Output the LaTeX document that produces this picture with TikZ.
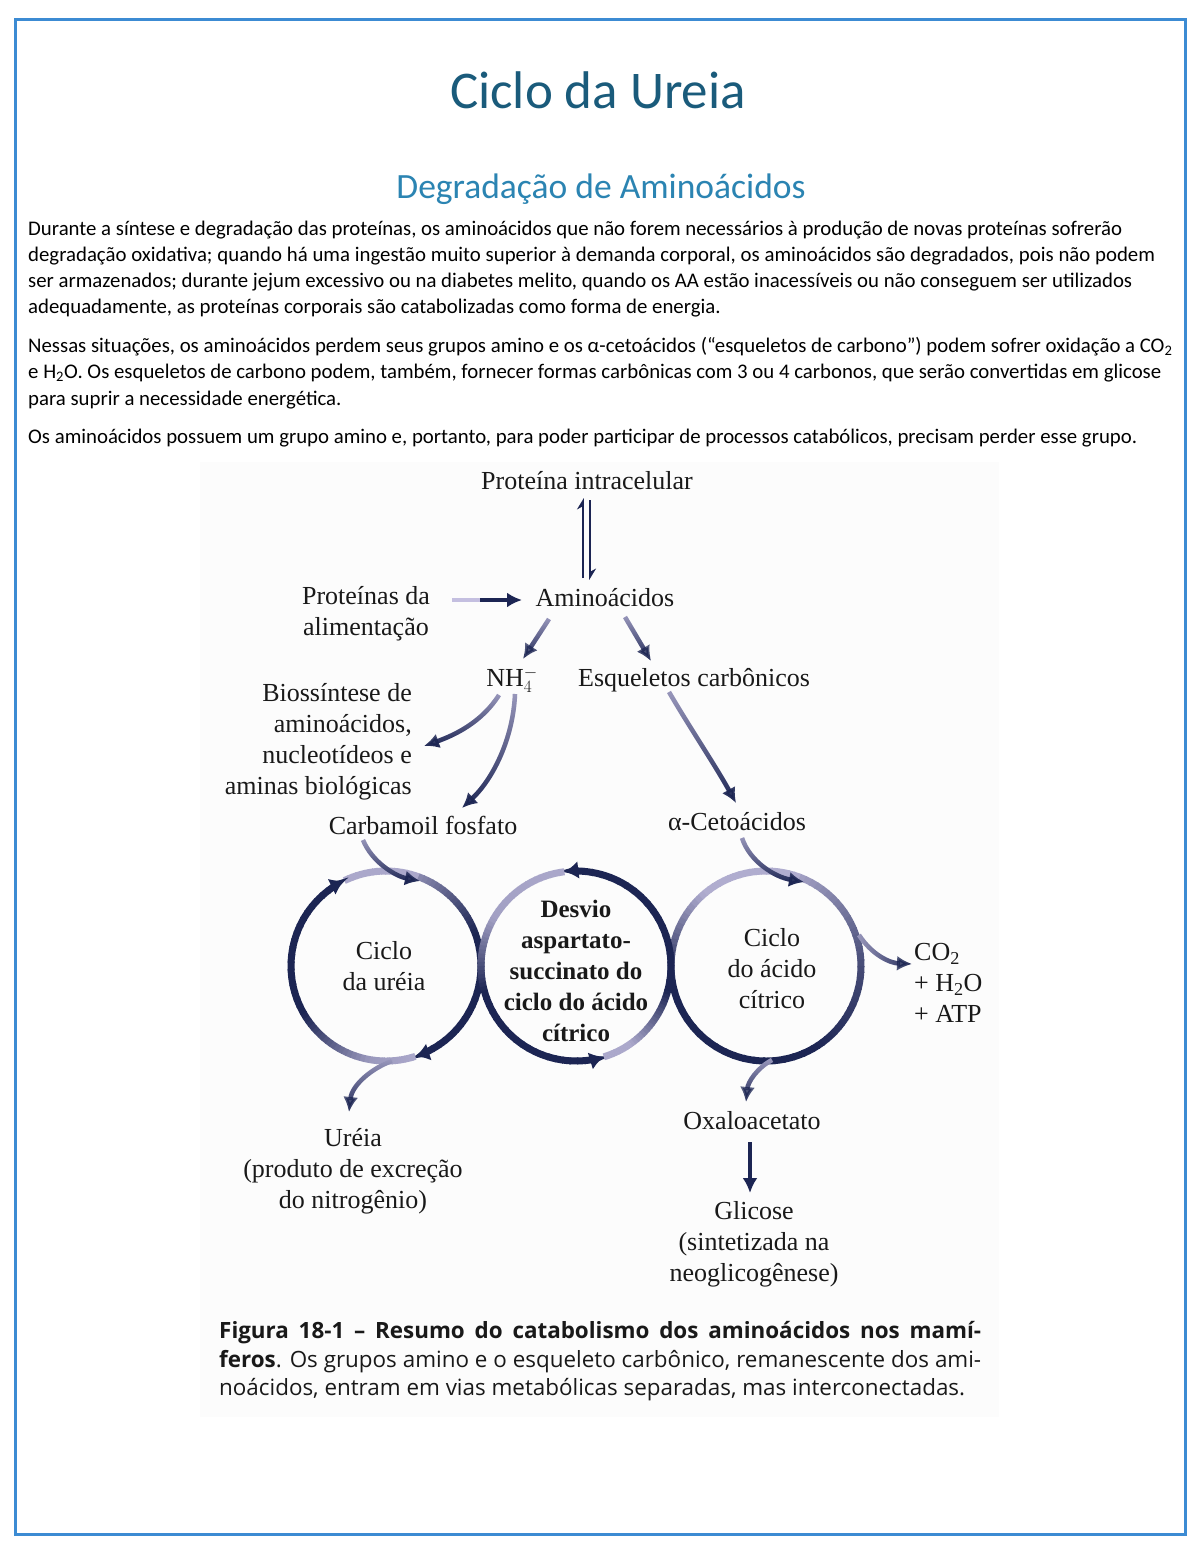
\documentclass[tikz,border=0pt]{standalone}
\usepackage{fontspec}
\setmainfont{Liberation Serif}
\newfontfamily\bodyfont{Carlito}
\newfontfamily\capfont{Open Sans}
\usetikzlibrary{arrows.meta,calc,fadings}
\definecolor{navy}{HTML}{1C2553}
\definecolor{lav}{HTML}{C4BFE0}
\definecolor{framec}{HTML}{3C8BD3}
\definecolor{titlec}{HTML}{1A5B7B}
\definecolor{subc}{HTML}{2B84B2}
\tikzfading[name=fdown, top color=transparent!75, bottom color=transparent!0]
\tikzfading[name=fright, left color=transparent!75, right color=transparent!0]
\newcommand{\garc}[5]{%
  \foreach \k in {1,...,18}{%
    \pgfmathsetmacro\sa{-(#2+(#3-#2)*(\k-1)/18)}%
    \pgfmathsetmacro\ea{-(#2+(#3-#2)*(\k+0.2)/18)}%
    \pgfmathsetmacro\pp{#4+(#5-#4)*(\k-0.5)/18}%
    \draw[cyc, navy!\pp!lav] (#1) ++(\sa:95) arc[start angle=\sa, end angle=\ea, radius=95];
  }}
\newcommand{\cyctip}[3]{%
  \pgfmathsetmacro\tsa{-(#2)}\pgfmathsetmacro\tea{-(#3)}%
  \draw[cyc, navy, -{Latex[length=14pt,width=18pt]}] (#1) ++(\tsa:95) arc[start angle=\tsa, end angle=\tea, radius=95];}
\newcommand{\fconn}[2]{%
  \draw[lav, line width=4.5pt, shorten >=14pt] #2;
  \draw[conn, path fading=#1] #2;}
\begin{document}
\begin{tikzpicture}[x=1pt,y=-1pt,
  cyc/.style={line width=7pt, line cap=butt},
  conn/.style={navy, line width=4.5pt, -{Latex[length=15pt,width=15pt]}},
  thinarr/.style={navy, line width=2pt},
  lab/.style={font=\fontsize{26}{31}\selectfont, inner sep=2pt, text=black!90},
  body/.style={anchor=base west, inner sep=0pt, font=\bodyfont\fontsize{20.8}{25}\selectfont},
  capn/.style={anchor=base west, inner sep=0pt, font=\capfont\fontsize{22.4}{26}\selectfont, text=black!90}]
\useasboundingbox (0,0) rectangle (1200,1553);
\fill[white] (0,0) rectangle (1200,1553);
\fill[black!1] (200,462) rectangle (999,1417);
\draw[framec, line width=3pt] (15,19) rectangle (1185,1534);

% titles
\node[anchor=base, inner sep=0pt, text=titlec, font=\bodyfont\fontsize{53}{60}\selectfont] (title) at (598,108) {Ciclo da Ureia};
\node[anchor=base, inner sep=0pt, text=subc, font=\bodyfont\fontsize{35.5}{40}\selectfont] (sub) at (601,198) {Degradação de Aminoácidos};

% body text
\node[body] (b1) at (28,235) {Durante a síntese e degradação das proteínas, os aminoácidos que não forem necessários à produção de novas proteínas sofrerão};
\node[body] (b2) at (28,261) {\makebox[1127pt][s]{degradação oxidativa; quando há uma ingestão muito superior à demanda corporal, os aminoácidos são degradados, pois não podem}};
\node[body] (b3) at (28,287) {ser armazenados; durante jejum excessivo ou na diabetes melito, quando os AA estão inacessíveis ou não conseguem ser utilizados};
\node[body] (b4) at (28,313) {adequadamente, as proteínas corporais são catabolizadas como forma de energia.};
\node[body] (b5) at (28,352) {Nessas situações, os aminoácidos perdem seus grupos amino e os α-cetoácidos (“esqueletos de carbono”) podem sofrer oxidação a CO\textsubscript{2}};
\node[body] (b6) at (28,378) {e H\textsubscript{2}O. Os esqueletos de carbono podem, também, fornecer formas carbônicas com 3 ou 4 carbonos, que serão convertidas em glicose};
\node[body] (b7) at (28,405) {para suprir a necessidade energética.};
\node[body] (b8) at (28,443) {Os aminoácidos possuem um grupo amino e, portanto, para poder participar de processos catabólicos, precisam perder esse grupo.};

% cycles
\coordinate (cu) at (386,966);
\coordinate (cm) at (576,966);
\coordinate (cc) at (766,966);
\garc{cu}{116}{70}{15}{15}
\garc{cu}{70}{20}{35}{100}
\garc{cu}{20}{-60}{100}{100}
\cyctip{cu}{-60}{-72}
\garc{cu}{-72}{-100}{15}{25}
\garc{cu}{-100}{-150}{25}{100}
\garc{cu}{-150}{-232}{100}{100}
\cyctip{cu}{-232}{-244}
\garc{cc}{70}{0}{20}{75}
\garc{cc}{0}{-60}{75}{100}
\garc{cc}{-60}{-170}{100}{100}
\garc{cc}{-170}{-230}{100}{12}
\garc{cc}{-230}{-290}{12}{12}
\garc{cm}{-55}{-15}{15}{100}
\garc{cm}{-15}{85}{100}{100}
\cyctip{cm}{85}{97}
\garc{cm}{97}{150}{15}{20}
\garc{cm}{150}{195}{20}{100}
\garc{cm}{195}{275}{100}{100}
\cyctip{cm}{275}{287}
\garc{cm}{287}{305}{15}{15}

% labels
\node[lab] (prot) at (587,481) {Proteína intracelular};
\node[lab] (amino) at (605,598) {Aminoácidos};
\node[lab, align=center] (food) at (366,614) {Proteínas da\\alimentação};
\node[lab] (nh4) at (512,680) {NH$_{4}^{-}$};
\node[lab] (esq) at (694,680) {Esqueletos carbônicos};
\node[lab, align=right, anchor=east] (bios) at (414,742) {Biossíntese de\\aminoácidos,\\nucleotídeos e\\aminas biológicas};
\node[lab] (carb) at (423,825) {Carbamoil fosfato};
\node[lab] (ceto) at (737,822) {α-Cetoácidos};
\node[lab, align=center] (lu) at (384,966) {Ciclo\\da uréia};
\node[lab, align=center, font=\bfseries\fontsize{25}{31}\selectfont] (lm) at (576,971) {Desvio\\aspartato-\\succinato do\\ciclo do ácido\\cítrico};
\node[lab, align=center] (lc) at (772,969) {Ciclo\\do ácido\\cítrico};
\node[lab, align=left, anchor=west] (co2) at (912,983) {CO\textsubscript{2}\\+ H\textsubscript{2}O\\+ ATP};
\node[lab, align=center] (urea) at (353,1171) {Uréia\\(produto de excreção\\do nitrogênio)};
\node[lab] (oxa) at (752,1121) {Oxaloacetato};
\node[lab, align=center] (gli) at (754,1244) {Glicose\\(sintetizada na\\neoglicogênese)};

% connector end points
\coordinate (pa1) at (583,578); \coordinate (pa2) at (583,498);
\coordinate (pb1) at (590,500); \coordinate (pb2) at (590,580);
\coordinate (fa1) at (452,600); \coordinate (fam) at (482,600); \coordinate (fa2) at (522,600);
\coordinate (an1) at (549,619); \coordinate (an2) at (523,659);
\coordinate (ae1) at (625,617); \coordinate (ae2) at (651,661);
\coordinate (nb1) at (499,695); \coordinate (nb2) at (424,746);
\coordinate (nc1) at (515,694); \coordinate (nc2) at (462,808);
\coordinate (ek1) at (669,692); \coordinate (ek2) at (736,803);
\coordinate (cu1) at (363,840); \coordinate (cu2) at (420,881);
\coordinate (kc1) at (742,838); \coordinate (kc2) at (804,882);
\coordinate (uu1) at (392,1061); \coordinate (uu2) at (349,1112);
\coordinate (co1) at (772,1060); \coordinate (co2e) at (746,1102);
\coordinate (cx1) at (859,935); \coordinate (cx2) at (912,964);
\coordinate (og1) at (750,1142); \coordinate (og2) at (750,1193);

% connectors
\draw[thinarr, -{Stealth[left,length=10pt,width=12pt]}] (pa1) -- (pa2);
\draw[thinarr, -{Stealth[left,length=10pt,width=12pt]}] (pb1) -- (pb2);
\draw[lav, line width=4.5pt] (fa1) -- (fam);
\draw[conn] ($(fam)+(-2,0)$) -- (fa2);
\fconn{fdown}{(an1) -- (an2)}
\fconn{fdown}{(ae1) -- (ae2)}
\fconn{fdown}{(nb1) .. controls (482,722) and (455,735) .. (nb2)}
\fconn{fdown}{(nc1) .. controls (513,740) and (492,780) .. (nc2)}
\fconn{fdown}{(ek1) .. controls (690,728) and (715,765) .. (ek2)}
\fconn{fdown}{(cu1) .. controls (372,862) and (395,876) .. (cu2)}
\fconn{fdown}{(kc1) .. controls (750,862) and (775,877) .. (kc2)}
\fconn{fdown}{(uu1) .. controls (372,1068) and (352,1085) .. (uu2)}
\fconn{fdown}{(co1) .. controls (757,1068) and (748,1082) .. (co2e)}
\fconn{fright}{(cx1) .. controls (872,955) and (890,963) .. (cx2)}
\draw[conn] (og1) -- (og2);

% caption
\node[capn] (cap1) at (219,1338) {\makebox[762pt][s]{\bfseries Figura 18-1 – Resumo do catabolismo dos aminoácidos nos mamí-}};
\node[capn] (cap2) at (219,1367) {\makebox[762pt][s]{\textbf{feros}. Os grupos amino e o esqueleto carbônico, remanescente dos ami-}};
\node[capn] (cap3) at (219,1395) {noácidos, entram em vias metabólicas separadas, mas interconectadas.};
\end{tikzpicture}
\end{document}
